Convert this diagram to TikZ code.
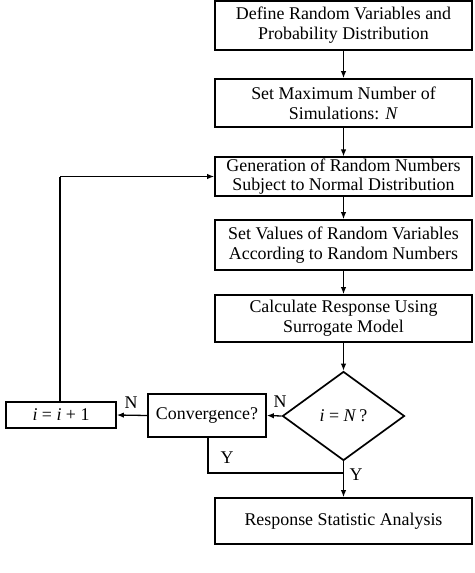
\documentclass[tikz,border=0pt]{standalone}
\usepackage{fontspec}
\setmainfont{Liberation Serif}
\usetikzlibrary{shapes.geometric,arrows.meta}
\begin{document}
\begin{tikzpicture}[x=1pt,y=-1pt,
  txt/.style={font=\fontsize{17.9}{20}\selectfont},
  box/.style={draw,line width=1.7pt,minimum width=257pt,inner sep=0pt,align=center,txt},
  smallbox/.style={draw,line width=1.7pt,inner sep=0pt,align=center,txt},
  dia/.style={draw,diamond,line width=1.7pt,inner sep=0pt,txt},
  arr/.style={line width=1.3pt,-{Latex[length=7pt,width=5.5pt]}},
  ln/.style={line width=1.3pt},
  lab/.style={txt,inner sep=0pt}]
\useasboundingbox (0,0) rectangle (474,573);
\node[box,minimum height=49pt] (b1) at (343.5,25.5) {Define Random Variables and\\Probability Distribution};
\node[box,minimum height=48pt] (b2) at (343.5,103) {Set Maximum Number of\\Simulations: \textit{N}};
\node[box,minimum height=38pt,inner ysep=1.5pt,font=\fontsize{17.9}{19}\selectfont] (b3) at (343.5,176.5) {Generation of Random Numbers\\Subject to Normal Distribution};
\node[box,minimum height=50pt] (b4) at (343.5,245) {Set Values of Random Variables\\According to Random Numbers};
\node[box,minimum height=47pt] (b5) at (343.5,318.5) {Calculate Response Using\\Surrogate Model};
\node[dia,minimum width=122pt,minimum height=89pt,aspect=1.37] (d) at (343.5,416) {\textit{i} = \textit{N}\,?};
\node[smallbox,minimum width=118pt,minimum height=43pt] (c) at (207,415.5) {Convergence?};
\node[smallbox,minimum width=110pt,minimum height=26pt] (inc) at (61,415) {\textit{i} = \textit{i} + 1};
\node[box,minimum height=46pt] (b6) at (343.5,521) {Response Statistic Analysis};
\coordinate (j) at (343.5,473);
\coordinate (cyb) at (208,473);
\coordinate (fb) at (60,176.5);
\draw[arr] (b1) -- (b2);
\draw[arr] (b2) -- (b3);
\draw[arr] (b3) -- (b4);
\draw[arr] (b4) -- (b5);
\draw[arr] (b5) -- (d.north);
\draw[arr] (d.west) -- (c.east);
\draw[arr] (c.west) -- (inc.east);
\draw[ln] (inc.north -| fb) -- (fb);
\draw[arr] (fb) -- (b3.west);
\draw[arr] (d.south) -- (b6.north);
\draw[ln] (c.south -| cyb) -- (cyb) -- (j);
\node[lab] (n1) at (280,402) {N};
\node[lab] (n2) at (131,403) {N};
\node[lab] (y1) at (227,458) {Y};
\node[lab] (y2) at (356,475) {Y};
\end{tikzpicture}
\end{document}
